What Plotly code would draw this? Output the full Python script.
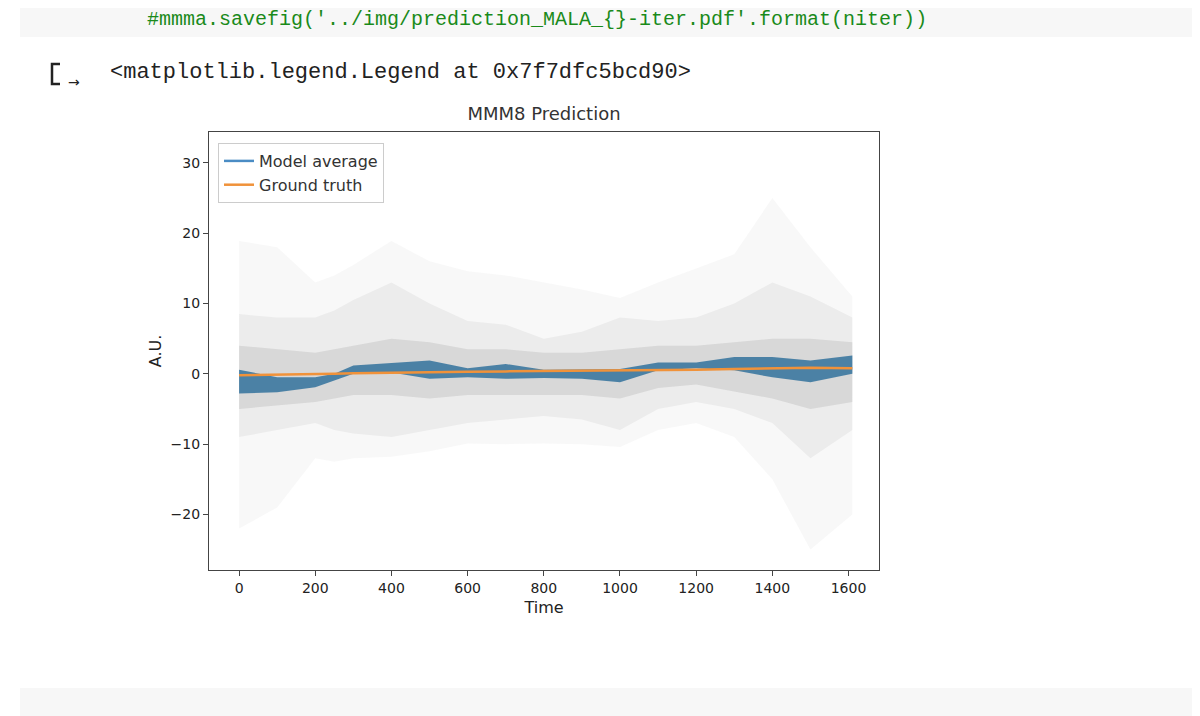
import plotly.graph_objects as go

time = [0, 100, 200, 250, 300, 400, 500, 600, 700, 800, 900, 1000, 1100, 1200, 1300, 1400, 1500, 1610]
avg_lo = [-2.8, -2.6, -1.9, -0.9, 0.0, 0.2, -0.7, -0.5, -0.7, -0.6, -0.7, -1.2, 0.5, 0.8, 0.5, -0.5, -1.2, 0.0]
avg_hi = [0.6, -0.5, -0.5, 0.0, 1.2, 1.6, 1.9, 0.8, 1.4, 0.6, 0.7, 0.7, 1.6, 1.6, 2.4, 2.4, 1.9, 2.6]
truth = [-0.2, -0.15, -0.1, 0.0, 0.1, 0.2, 0.25, 0.3, 0.35, 0.4, 0.4, 0.4, 0.5, 0.6, 0.7, 0.8, 0.85, 0.8]
outer_hi = [18.9, 18.0, 13.0, 14.0, 15.5, 18.9, 16.0, 14.6, 14.0, 13.0, 12.0, 10.8, 13.0, 15.0, 17.0, 25.0, 18.0, 11.0]
outer_lo = [-22.0, -19.0, -12.0, -12.5, -12.0, -11.8, -11.0, -9.9, -10.0, -9.9, -10.0, -10.4, -8.0, -7.0, -9.0, -15.0, -25.0, -20.0]
mid_hi = [8.5, 8.0, 8.0, 9.0, 10.5, 13.0, 10.0, 7.5, 7.0, 5.0, 6.0, 8.0, 7.5, 8.0, 10.0, 13.0, 11.0, 8.0]
mid_lo = [-9.0, -8.0, -7.0, -8.0, -8.5, -9.0, -8.0, -7.0, -6.5, -6.0, -6.5, -8.0, -5.0, -4.0, -5.0, -7.0, -12.0, -8.0]
inner_hi = [4.0, 3.5, 3.0, 3.5, 4.0, 5.0, 4.5, 3.5, 3.5, 3.0, 3.0, 3.5, 4.0, 4.0, 4.5, 5.0, 5.0, 4.5]
inner_lo = [-5.0, -4.5, -4.0, -3.5, -3.0, -3.0, -3.5, -3.0, -3.0, -3.0, -3.0, -3.5, -2.0, -1.5, -2.5, -3.5, -5.0, -4.0]

xticks = [0, 200, 400, 600, 800, 1000, 1200, 1400, 1600]
yticks = [-20, -10, 0, 10, 20, 30]

W, H, OFF = 1192, 708, 8
def px(x): return (x - OFF) / W
def py(y): return 1 - (y - OFF) / H

fig = go.Figure()

def band(lo, hi, color):
    fig.add_trace(go.Scatter(x=time, y=lo, mode="lines", line=dict(width=0), showlegend=False, hoverinfo="skip"))
    fig.add_trace(go.Scatter(x=time, y=hi, mode="lines", line=dict(width=0), fill="tonexty",
                             fillcolor=color, showlegend=False, hoverinfo="skip"))

band(outer_lo, outer_hi, "rgba(120,120,120,0.05)")
band(mid_lo, mid_hi, "rgba(120,120,120,0.09)")
band(inner_lo, inner_hi, "rgba(110,110,110,0.16)")

fig.add_trace(go.Scatter(x=time, y=avg_lo, mode="lines", line=dict(width=0, color="#4a7fa0"), showlegend=False, hoverinfo="skip"))
fig.add_trace(go.Scatter(x=time, y=avg_hi, mode="lines", line=dict(width=0, color="#4a7fa0"), fill="tonexty",
                         fillcolor="rgba(60,120,160,0.9)", showlegend=False))
fig.add_trace(go.Scatter(x=[None], y=[None], mode="lines", line=dict(color="#4a8cc4", width=2.5), name="Model average"))
fig.add_trace(go.Scatter(x=time, y=truth, mode="lines", line=dict(color="#f0923a", width=2.5), name="Ground truth"))

fig.update_layout(
    width=W, height=H, margin=dict(l=0, r=0, t=0, b=0),
    paper_bgcolor="white", plot_bgcolor="white",
    font=dict(family="DejaVu Sans", color="#222", size=14),
    title=dict(text="MMM8 Prediction", x=px(544), y=py(114), xanchor="center", yanchor="middle",
               font=dict(size=18, color="#333")),
    legend=dict(x=px(218), y=py(143), xanchor="left", yanchor="top", traceorder="normal",
                bordercolor="#ccc", borderwidth=1, bgcolor="rgba(255,255,255,0.9)",
                font=dict(size=16, color="#333"), tracegroupgap=0),
    xaxis=dict(domain=[px(209), px(879)], range=[-79, 1680], tickvals=xticks,
               showline=True, linecolor="#444", linewidth=1.2, mirror=True, ticks="outside",
               ticklen=5, tickcolor="#444", showgrid=False, zeroline=False,
               title=dict(text="Time", standoff=6, font=dict(size=16))),
    yaxis=dict(domain=[py(570), py(132)], range=[-27.9, 34.4], tickvals=yticks,
               tickformat="d", showline=True, linecolor="#444", linewidth=1.2, mirror=True, ticks="outside",
               ticklen=5, tickcolor="#444", showgrid=False, zeroline=False,
               title=dict(text="A.U.", standoff=4, font=dict(size=16))),
    shapes=[
        dict(type="rect", xref="paper", yref="paper", x0=px(20), x1=1, y0=py(37), y1=1,
             fillcolor="#f7f7f7", line=dict(width=0), layer="below"),
        dict(type="rect", xref="paper", yref="paper", x0=px(20), x1=1, y0=0, y1=py(688),
             fillcolor="#f7f7f7", line=dict(width=0), layer="below"),
        dict(type="path", xref="paper", yref="paper",
             path=f"M {px(60)},{py(64)} L {px(52)},{py(64)} L {px(52)},{py(84)} L {px(60)},{py(84)}",
             line=dict(color="#222", width=2.5)),
    ],
    annotations=[
        dict(text="#mmma.savefig('../img/prediction_MALA_{}-iter.pdf'.format(niter))", xref="paper", yref="paper",
             x=px(145), y=py(20), xanchor="left", yanchor="middle", showarrow=False,
             font=dict(family="Liberation Mono", size=20, color="#1a8a1a")),
        dict(text="<matplotlib.legend.Legend at 0x7f7dfc5bcd90>", xref="paper", yref="paper",
             x=px(108), y=py(72), xanchor="left", yanchor="middle", showarrow=False,
             font=dict(family="Liberation Mono", size=22, color="#222")),
        dict(text="→", xref="paper", yref="paper", x=px(66), y=py(72), showarrow=False,
             font=dict(size=14, color="#222")),
    ],
)
fig.write_html("out.html")
